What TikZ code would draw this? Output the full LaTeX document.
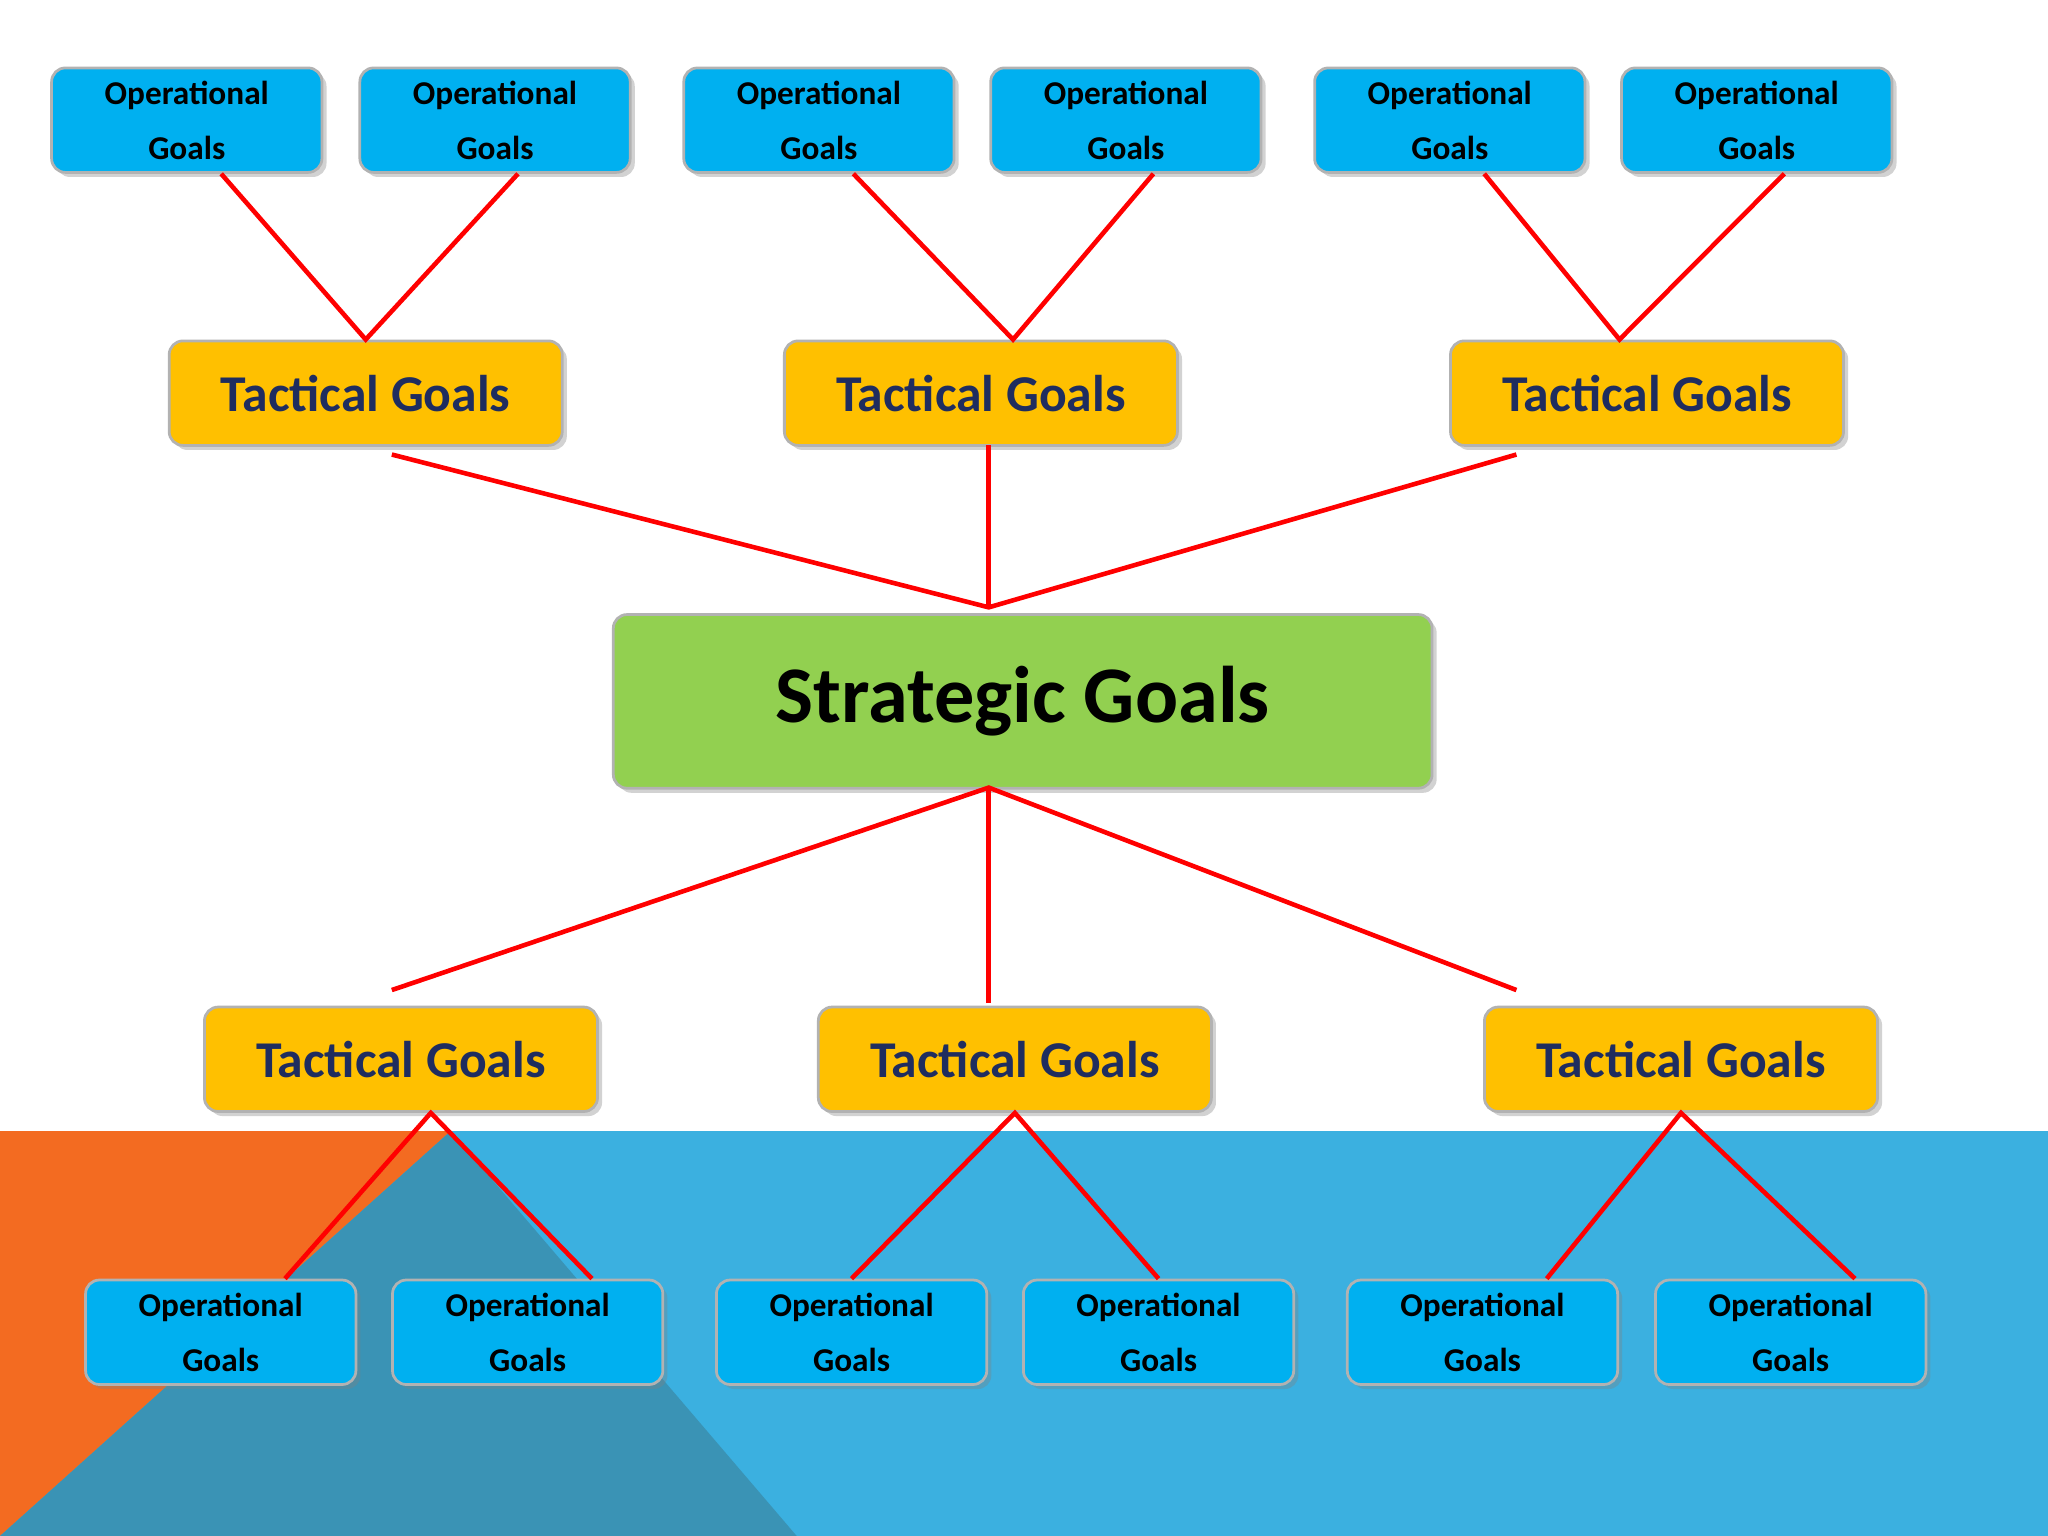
\documentclass[tikz,border=0pt]{standalone}
\usepackage{fontspec}
\setmainfont{Carlito}
\usetikzlibrary{shadows}
\definecolor{opblue}{HTML}{00B0F0}
\definecolor{tacyel}{HTML}{FFC000}
\definecolor{strgreen}{HTML}{92D050}
\definecolor{navy}{HTML}{1F2D5F}
\definecolor{bgblue}{HTML}{3BB0E0}
\definecolor{bgdark}{HTML}{3A93B5}
\definecolor{bgorange}{HTML}{F36B21}
\tikzset{
 box/.style={rounded corners=6pt,draw=gray!60,line width=1.2pt,drop shadow={shadow xshift=2pt,shadow yshift=-2pt,opacity=0.35},inner sep=0pt,align=center},
 opbox/.style={box,fill=opblue,minimum width=4.14cm,minimum height=1.6cm,font=\bfseries\fontsize{14.5}{24}\selectfont,text=black},
 tacbox/.style={box,fill=tacyel,minimum width=6.02cm,minimum height=1.6cm,font=\bfseries\fontsize{22.5}{26}\selectfont,text=navy},
 strbox/.style={box,fill=strgreen,minimum width=12.54cm,minimum height=2.66cm,font=\bfseries\fontsize{35}{40}\selectfont,text=black},
 link/.style={red,line width=2pt}
}
\begin{document}
\begin{tikzpicture}[x=0.02cm,y=-0.02cm]
\useasboundingbox (0,0) rectangle (1568,1176);
\fill[white] (0,0) rectangle (1568,1176);
\fill[bgblue] (0,866) rectangle (1568,1176);
\fill[bgorange] (0,866) -- (345,866) -- (0,1176) -- cycle;
\fill[bgdark] (345,866) -- (0,1176) -- (610,1176) -- cycle;
% strategic
\node[strbox] (S) at (783,537) {Strategic Goals};
% tactical
\node[tacbox] (T1) at (280,301) {Tactical Goals};
\node[tacbox] (T2) at (751,301) {Tactical Goals};
\node[tacbox] (T3) at (1261,301) {Tactical Goals};
\node[tacbox] (B1) at (307,811) {Tactical Goals};
\node[tacbox] (B2) at (777,811) {Tactical Goals};
\node[tacbox] (B3) at (1287,811) {Tactical Goals};
% operational
\foreach \n/\x in {O1/143,O2/379,O3/627,O4/862,O5/1110,O6/1345}{
 \node[opbox] (\n) at (\x,92) {Operational\\Goals};}
\foreach \n/\x in {P1/169,P2/404,P3/652,P4/887,P5/1135,P6/1371}{
 \node[opbox] (\n) at (\x,1020) {Operational\\Goals};}
% hubs
\coordinate (hT) at (757,465);
\coordinate (hB) at (757,603);
\coordinate (a1) at (300,348); \coordinate (a2) at (757,341); \coordinate (a3) at (1161,348);
\coordinate (b1) at (300,758); \coordinate (b2) at (757,768); \coordinate (b3) at (1161,758);
\draw[link] (a1) -- (hT) -- (a3); \draw[link] (a2) -- (hT);
\draw[link] (b1) -- (hB) -- (b3); \draw[link] (b2) -- (hB);
% ops links
\draw[link] ([xshift=15]O1.south) -- (T1.north) -- ([xshift=10]O2.south);
\draw[link] ([xshift=15]O3.south) -- ([xshift=14]T2.north) -- ([xshift=12]O4.south);
\draw[link] ([xshift=15]O5.south) -- ([xshift=-12]T3.north) -- ([xshift=12]O6.south);
\draw[link] ([xshift=28]P1.north) -- ([xshift=13]B1.south) -- ([xshift=28]P2.north);
\draw[link] (P3.north) -- (B2.south) -- (P4.north);
\draw[link] ([xshift=28]P5.north) -- (B3.south) -- ([xshift=28]P6.north);
\end{tikzpicture}
\end{document}
